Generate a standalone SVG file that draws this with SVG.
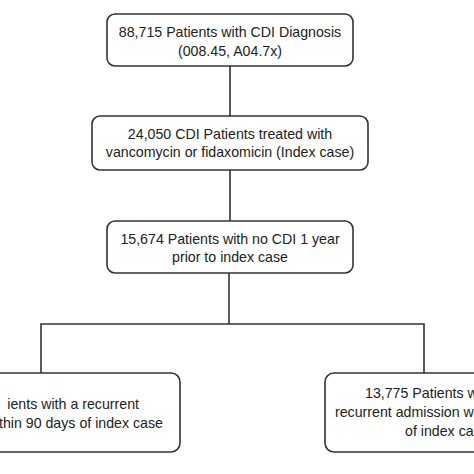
<svg xmlns="http://www.w3.org/2000/svg" width="474" height="474" viewBox="0 0 474 474">
<style>
.box{fill:#fff;stroke:#333;stroke-width:1.6}
.t{font-family:"Liberation Sans",Arial,sans-serif;font-size:14.2px;fill:#222;text-anchor:middle}
.conn{stroke:#333;stroke-width:1.6;fill:none}
</style>
<rect width="474" height="474" fill="#fff"/>
<g id="connectors">
<line class="conn" x1="230" y1="66" x2="230" y2="116"/>
<line class="conn" x1="230" y1="170" x2="230" y2="221"/>
<line class="conn" x1="229" y1="273" x2="229" y2="324"/>
<polyline class="conn" points="41,373 41,324 424,324 424,373"/>
</g>
<g id="n1">
<rect class="box" x="107" y="14" width="246" height="52" rx="8"/>
<text class="t" x="230" y="37">88,715 Patients with CDI Diagnosis</text>
<text class="t" x="230" y="56">(008.45, A04.7x)</text>
</g>
<g id="n2">
<rect class="box" x="92" y="116" width="276" height="54" rx="8"/>
<text class="t" x="230" y="139">24,050 CDI Patients treated with</text>
<text class="t" x="230" y="157">vancomycin or fidaxomicin (Index case)</text>
</g>
<g id="n3">
<rect class="box" x="107" y="221" width="246" height="52" rx="8"/>
<text class="t" x="230" y="244">15,674 Patients with no CDI 1 year</text>
<text class="t" x="230" y="262">prior to index case</text>
</g>
<g id="n4">
<rect class="box" x="-98" y="373" width="278" height="79" rx="9"/>
<text class="t" x="139" y="409" style="text-anchor:end">ients with a recurrent</text>
<text class="t" x="163" y="428" style="text-anchor:end">thin 90 days of index case</text>
</g>
<g id="n5">
<rect class="box" x="325" y="373" width="198" height="79" rx="9"/>
<text class="t" x="365" y="398" style="text-anchor:start">13,775 Patients w</text>
<text class="t" x="335" y="417" style="text-anchor:start">recurrent admission w</text>
<text class="t" x="405" y="436" style="text-anchor:start">of index ca</text>
</g>
</svg>
